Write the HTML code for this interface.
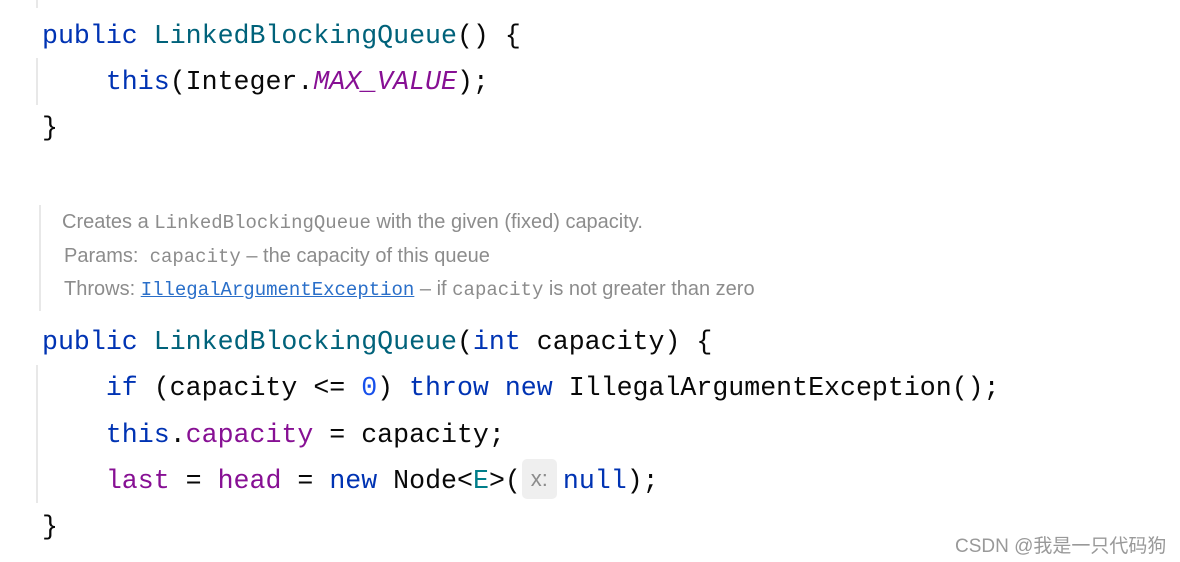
<!DOCTYPE html>
<html><head><meta charset="utf-8"><style>
body{margin:0;width:1180px;height:562px;background:#fff;position:relative;overflow:hidden}
.l{position:absolute;left:42px;height:46px;line-height:46px;font-family:"Liberation Mono",monospace;font-size:26.6px;color:#080808;white-space:pre}
.k{color:#0033b3}.f{color:#00627a}.p{color:#871094}.i{color:#871094;font-style:italic}.n{color:#1750eb}.t{color:#007e8a}
.g{position:absolute;left:36px;width:2px;background:#e8e8e8}
.d{position:absolute;font-family:"Liberation Sans",sans-serif;font-size:20px;color:#8c8c8c;white-space:pre}
.m{font-family:"Liberation Mono",monospace;font-size:19px}
.h{display:inline-block;background:#efefef;border-radius:5px;color:#8c8c8c;font-family:"Liberation Sans",sans-serif;font-size:22px;width:35px;height:40px;line-height:40px;text-align:center;vertical-align:middle;margin:0 6px 0 1px;position:relative;top:-2px}
</style></head><body>
<div class="g" style="top:0;height:8px"></div>
<div class="l" style="top:13px"><span class="k">public</span> <span class="f">LinkedBlockingQueue</span>() {</div>
<div class="g" style="top:58px;height:47px"></div>
<div class="l" style="top:59px">    <span class="k">this</span>(Integer.<span class="i">MAX_VALUE</span>);</div>
<div class="l" style="top:105px">}</div>
<div class="g" style="left:39px;top:205px;height:106px"></div>
<div class="d" style="left:62px;top:211px">Creates a <span class="m">LinkedBlockingQueue</span> with the given (fixed) capacity.</div>
<div class="d" style="left:64px;top:245px">Params:  <span class="m">capacity</span> – the capacity of this queue</div>
<div class="d" style="left:64px;top:278px">Throws: <span class="m" style="color:#2a6fc9;text-decoration:underline">IllegalArgumentException</span> – if <span class="m">capacity</span> is not greater than zero</div>
<div class="l" style="top:319px"><span class="k">public</span> <span class="f">LinkedBlockingQueue</span>(<span class="k">int</span> capacity) {</div>
<div class="g" style="top:365px;height:138px"></div>
<div class="l" style="top:365px">    <span class="k">if</span> (capacity &lt;= <span class="n">0</span>) <span class="k">throw new</span> IllegalArgumentException();</div>
<div class="l" style="top:412px">    <span class="k">this</span>.<span class="p">capacity</span> = capacity;</div>
<div class="l" style="top:458px">    <span class="p">last</span> = <span class="p">head</span> = <span class="k">new</span> Node&lt;<span class="t">E</span>&gt;(<span class="h">x:</span><span class="k">null</span>);</div>
<div class="l" style="top:504px">}</div>
<div class="d" style="left:955px;top:531px;font-size:19px;color:#999;font-family:'Liberation Sans','Noto Sans CJK SC',sans-serif">CSDN @我是一只代码狗</div>
</body></html>
